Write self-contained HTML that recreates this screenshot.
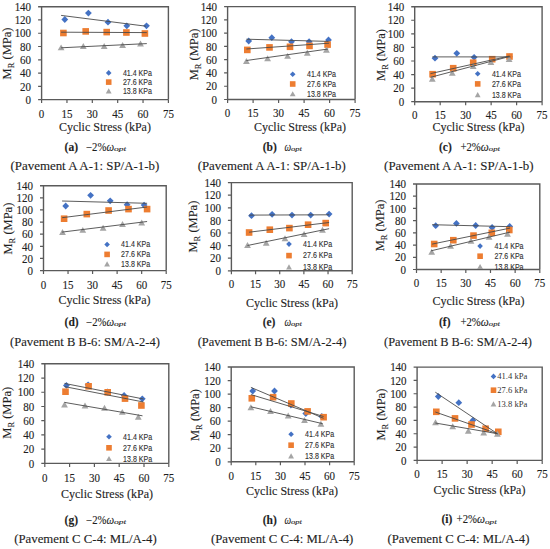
<!DOCTYPE html>
<html><head><meta charset="utf-8"><style>
html,body{margin:0;padding:0;background:#fff;}
svg{display:block;}
text{font-family:"Liberation Serif",serif;fill:#1e1e1e;stroke:#1e1e1e;stroke-width:0.12px;}
.t{font-size:11px;}
.c{font-size:12px;}
.yl{font-size:12.5px;}
.sub{font-size:8.5px;}
.l{font-family:"Liberation Sans",sans-serif;font-size:8.2px;fill:#333333;}
.ls{font-size:8.5px;fill:#333;stroke:none;}
.cb{font-size:11.5px;font-weight:bold;}
.cp{font-size:11.5px;}
.cw{font-size:12px;font-style:italic;}
.co{font-size:7px;font-style:italic;}
.p{font-size:12.6px;}
</style></head><body>
<svg width="550" height="549" viewBox="0 0 550 549">
<rect width="550" height="549" fill="#fff"/>
<g><path d="M64.8 16.1L68.2 19.5L64.8 22.9L61.4 19.5Z" fill="#4472C4"/><path d="M88.4 9.7L91.8 13.1L88.4 16.5L85 13.1Z" fill="#4472C4"/><path d="M108 18.8L111.4 22.2L108 25.6L104.6 22.2Z" fill="#4472C4"/><path d="M126.8 22.4L130.2 25.8L126.8 29.2L123.4 25.8Z" fill="#4472C4"/><path d="M146.5 22.4L149.9 25.8L146.5 29.2L143.1 25.8Z" fill="#4472C4"/><rect x="60.1" y="29.7" width="6.6" height="6.6" fill="#ED7D31"/><rect x="82.4" y="28.1" width="6.6" height="6.6" fill="#ED7D31"/><rect x="103.4" y="28.8" width="6.6" height="6.6" fill="#ED7D31"/><rect x="123.1" y="29.2" width="6.6" height="6.6" fill="#ED7D31"/><rect x="141.6" y="30.2" width="6.6" height="6.6" fill="#ED7D31"/><path d="M61.1 44.4L64.5 50.35L57.7 50.35Z" fill="#A5A5A5"/><path d="M83.3 43.1L86.7 49.05L79.9 49.05Z" fill="#A5A5A5"/><path d="M104.2 43.1L107.6 49.05L100.8 49.05Z" fill="#A5A5A5"/><path d="M122.6 42.1L126 48.05L119.2 48.05Z" fill="#A5A5A5"/><path d="M140.5 40.6L143.9 46.55L137.1 46.55Z" fill="#A5A5A5"/><line x1="61.1" y1="15.4" x2="145.9" y2="26.2" stroke="#4a4a4a" stroke-width="0.9"/><line x1="61.1" y1="32.2" x2="146.8" y2="32.6" stroke="#4a4a4a" stroke-width="0.9"/><line x1="61.1" y1="47.8" x2="146.8" y2="43.6" stroke="#4a4a4a" stroke-width="0.9"/><path d="M38.1 6.7H168.4V99.6M41.6 6.7V99.6H168.4" fill="none" stroke="#5a5a5a" stroke-width="1.4"/><path d="M38.1 19.97H41.6M38.1 33.24H41.6M38.1 46.51H41.6M38.1 59.79H41.6M38.1 73.06H41.6M38.1 86.33H41.6M38.1 99.6H41.6M41.6 99.6V103.1M66.96 99.6V103.1M92.32 99.6V103.1M117.68 99.6V103.1M143.04 99.6V103.1M168.4 99.6V103.1" stroke="#5a5a5a" stroke-width="1.2"/><text transform="translate(31.1 10.9) scale(1 1.22)" class="t" text-anchor="end">140</text><text transform="translate(31.1 24.17) scale(1 1.22)" class="t" text-anchor="end">120</text><text transform="translate(31.1 37.44) scale(1 1.22)" class="t" text-anchor="end">100</text><text transform="translate(31.1 50.71) scale(1 1.22)" class="t" text-anchor="end">80</text><text transform="translate(31.1 63.99) scale(1 1.22)" class="t" text-anchor="end">60</text><text transform="translate(31.1 77.26) scale(1 1.22)" class="t" text-anchor="end">40</text><text transform="translate(31.1 90.53) scale(1 1.22)" class="t" text-anchor="end">20</text><text transform="translate(31.1 103.8) scale(1 1.22)" class="t" text-anchor="end">0</text><text transform="translate(41.6 117.6) scale(1 1.22)" class="t" text-anchor="middle">0</text><text transform="translate(66.96 117.6) scale(1 1.22)" class="t" text-anchor="middle">15</text><text transform="translate(92.32 117.6) scale(1 1.22)" class="t" text-anchor="middle">30</text><text transform="translate(117.68 117.6) scale(1 1.22)" class="t" text-anchor="middle">45</text><text transform="translate(143.04 117.6) scale(1 1.22)" class="t" text-anchor="middle">60</text><text transform="translate(168.4 117.6) scale(1 1.22)" class="t" text-anchor="middle">75</text><text x="104.9" y="131" class="c" text-anchor="middle">Cyclic Stress (kPa)</text><text transform="translate(10.8 53.5) rotate(-90)" class="yl" text-anchor="middle">M<tspan class="sub" dy="3">R</tspan><tspan dy="-3"> (MPa)</tspan></text><path d="M108.7 70.1L111.5 72.9L108.7 75.7L105.9 72.9Z" fill="#4472C4"/><rect x="105.9" y="79.3" width="5.6" height="5.6" fill="#ED7D31"/><path d="M108.7 88.3L111.6 93.38L105.8 93.38Z" fill="#A5A5A5"/><text x="122.9" y="75.6" class="l" textLength="29" lengthAdjust="spacingAndGlyphs">41.4 KPa</text><text x="122.9" y="84.8" class="l" textLength="29" lengthAdjust="spacingAndGlyphs">27.6 KPa</text><text x="122.9" y="93.9" class="l" textLength="29" lengthAdjust="spacingAndGlyphs">13.8 KPa</text><text x="64.6" y="150.5" class="cb">(a)</text><text x="86" y="150.5" class="cp" textLength="20.4" lengthAdjust="spacingAndGlyphs">−2%</text><text x="106.4" y="150.5" class="cw" textLength="7.6" lengthAdjust="spacingAndGlyphs">ω</text><text x="114" y="150.8" class="co" textLength="12.2" lengthAdjust="spacingAndGlyphs">opt</text><text x="10.5" y="170.3" class="p" textLength="148.8" lengthAdjust="spacingAndGlyphs">(Pavement A A-1: SP/A-1-b)</text></g><g><path d="M248.7 37.6L252.1 41L248.7 44.4L245.3 41Z" fill="#4472C4"/><path d="M271.8 34.3L275.2 37.7L271.8 41.1L268.4 37.7Z" fill="#4472C4"/><path d="M291.5 38.3L294.9 41.7L291.5 45.1L288.1 41.7Z" fill="#4472C4"/><path d="M309.1 38.3L312.5 41.7L309.1 45.1L305.7 41.7Z" fill="#4472C4"/><path d="M328.5 36.5L331.9 39.9L328.5 43.3L325.1 39.9Z" fill="#4472C4"/><rect x="244" y="46.6" width="6.6" height="6.6" fill="#ED7D31"/><rect x="266.2" y="44.1" width="6.6" height="6.6" fill="#ED7D31"/><rect x="286.7" y="43.5" width="6.6" height="6.6" fill="#ED7D31"/><rect x="306.2" y="42.6" width="6.6" height="6.6" fill="#ED7D31"/><rect x="324.3" y="41.3" width="6.6" height="6.6" fill="#ED7D31"/><path d="M246.4 58L249.8 63.95L243 63.95Z" fill="#A5A5A5"/><path d="M267.6 55.2L271 61.15L264.2 61.15Z" fill="#A5A5A5"/><path d="M287.6 52.9L291 58.85L284.2 58.85Z" fill="#A5A5A5"/><path d="M307.3 49.8L310.7 55.75L303.9 55.75Z" fill="#A5A5A5"/><path d="M326.4 46.7L329.8 52.65L323 52.65Z" fill="#A5A5A5"/><line x1="246.4" y1="39.2" x2="328.5" y2="41.4" stroke="#4a4a4a" stroke-width="0.9"/><line x1="246.4" y1="49" x2="329.1" y2="43.2" stroke="#4a4a4a" stroke-width="0.9"/><line x1="246.4" y1="60.5" x2="328.2" y2="49" stroke="#4a4a4a" stroke-width="0.9"/><path d="M224.1 6.6H355.1V99.5M227.6 6.6V99.5H355.1" fill="none" stroke="#5a5a5a" stroke-width="1.4"/><path d="M224.1 19.87H227.6M224.1 33.14H227.6M224.1 46.41H227.6M224.1 59.69H227.6M224.1 72.96H227.6M224.1 86.23H227.6M224.1 99.5H227.6M227.6 99.5V103M253.1 99.5V103M278.6 99.5V103M304.1 99.5V103M329.6 99.5V103M355.1 99.5V103" stroke="#5a5a5a" stroke-width="1.2"/><text transform="translate(217.1 10.8) scale(1 1.22)" class="t" text-anchor="end">140</text><text transform="translate(217.1 24.07) scale(1 1.22)" class="t" text-anchor="end">120</text><text transform="translate(217.1 37.34) scale(1 1.22)" class="t" text-anchor="end">100</text><text transform="translate(217.1 50.61) scale(1 1.22)" class="t" text-anchor="end">80</text><text transform="translate(217.1 63.89) scale(1 1.22)" class="t" text-anchor="end">60</text><text transform="translate(217.1 77.16) scale(1 1.22)" class="t" text-anchor="end">40</text><text transform="translate(217.1 90.43) scale(1 1.22)" class="t" text-anchor="end">20</text><text transform="translate(217.1 103.7) scale(1 1.22)" class="t" text-anchor="end">0</text><text transform="translate(227.6 116.5) scale(1 1.22)" class="t" text-anchor="middle">0</text><text transform="translate(253.1 116.5) scale(1 1.22)" class="t" text-anchor="middle">15</text><text transform="translate(278.6 116.5) scale(1 1.22)" class="t" text-anchor="middle">30</text><text transform="translate(304.1 116.5) scale(1 1.22)" class="t" text-anchor="middle">45</text><text transform="translate(329.6 116.5) scale(1 1.22)" class="t" text-anchor="middle">60</text><text transform="translate(355.1 116.5) scale(1 1.22)" class="t" text-anchor="middle">75</text><text x="300" y="130.5" class="c" text-anchor="middle">Cyclic Stress (kPa)</text><text transform="translate(198.3 54.4) rotate(-90)" class="yl" text-anchor="middle">M<tspan class="sub" dy="3">R</tspan><tspan dy="-3"> (MPa)</tspan></text><path d="M292.7 71.5L295.5 74.3L292.7 77.1L289.9 74.3Z" fill="#4472C4"/><rect x="289.9" y="81.2" width="5.6" height="5.6" fill="#ED7D31"/><path d="M292.7 91.2L295.6 96.27L289.8 96.27Z" fill="#A5A5A5"/><text x="307" y="77" class="l" textLength="29" lengthAdjust="spacingAndGlyphs">41.4 KPa</text><text x="307" y="86.7" class="l" textLength="29" lengthAdjust="spacingAndGlyphs">27.6 KPa</text><text x="307" y="96.8" class="l" textLength="29" lengthAdjust="spacingAndGlyphs">13.8 KPa</text><text x="262.7" y="150.5" class="cb">(b)</text><text x="284.4" y="150.5" class="cw" textLength="6.6" lengthAdjust="spacingAndGlyphs">ω</text><text x="291" y="150.8" class="co" textLength="10.9" lengthAdjust="spacingAndGlyphs">opt</text><text x="197.7" y="169.8" class="p" textLength="148.1" lengthAdjust="spacingAndGlyphs">(Pavement A A-1: SP/A-1-b)</text></g><g><path d="M435 54.8L438.4 58.2L435 61.6L431.6 58.2Z" fill="#4472C4"/><path d="M456.8 49.9L460.2 53.3L456.8 56.7L453.4 53.3Z" fill="#4472C4"/><path d="M474.1 53.9L477.5 57.3L474.1 60.7L470.7 57.3Z" fill="#4472C4"/><path d="M492.2 55.9L495.6 59.3L492.2 62.7L488.8 59.3Z" fill="#4472C4"/><path d="M509.5 53.4L512.9 56.8L509.5 60.2L506.1 56.8Z" fill="#4472C4"/><rect x="429.3" y="70.9" width="6.6" height="6.6" fill="#ED7D31"/><rect x="449.9" y="64.9" width="6.6" height="6.6" fill="#ED7D31"/><rect x="469.9" y="59.4" width="6.6" height="6.6" fill="#ED7D31"/><rect x="488.9" y="55.9" width="6.6" height="6.6" fill="#ED7D31"/><rect x="506.2" y="53.2" width="6.6" height="6.6" fill="#ED7D31"/><path d="M432.3 75.7L435.7 81.65L428.9 81.65Z" fill="#A5A5A5"/><path d="M452.3 69.9L455.7 75.85L448.9 75.85Z" fill="#A5A5A5"/><path d="M473.2 63L476.6 68.95L469.8 68.95Z" fill="#A5A5A5"/><path d="M490.9 59.1L494.3 65.05L487.5 65.05Z" fill="#A5A5A5"/><path d="M509.1 56.1L512.5 62.05L505.7 62.05Z" fill="#A5A5A5"/><line x1="432.3" y1="56.9" x2="510.5" y2="56.9" stroke="#4a4a4a" stroke-width="0.9"/><line x1="430.5" y1="73.6" x2="509.5" y2="56" stroke="#4a4a4a" stroke-width="0.9"/><line x1="430.5" y1="77.3" x2="509.5" y2="56.5" stroke="#4a4a4a" stroke-width="0.9"/><path d="M411.2 6.7H542.1V101.7M414.7 6.7V101.7H542.1" fill="none" stroke="#5a5a5a" stroke-width="1.4"/><path d="M411.2 20.27H414.7M411.2 33.84H414.7M411.2 47.41H414.7M411.2 60.99H414.7M411.2 74.56H414.7M411.2 88.13H414.7M411.2 101.7H414.7M414.7 101.7V105.2M440.18 101.7V105.2M465.66 101.7V105.2M491.14 101.7V105.2M516.62 101.7V105.2M542.1 101.7V105.2" stroke="#5a5a5a" stroke-width="1.2"/><text transform="translate(404.2 10.9) scale(1 1.22)" class="t" text-anchor="end">140</text><text transform="translate(404.2 24.47) scale(1 1.22)" class="t" text-anchor="end">120</text><text transform="translate(404.2 38.04) scale(1 1.22)" class="t" text-anchor="end">100</text><text transform="translate(404.2 51.61) scale(1 1.22)" class="t" text-anchor="end">80</text><text transform="translate(404.2 65.19) scale(1 1.22)" class="t" text-anchor="end">60</text><text transform="translate(404.2 78.76) scale(1 1.22)" class="t" text-anchor="end">40</text><text transform="translate(404.2 92.33) scale(1 1.22)" class="t" text-anchor="end">20</text><text transform="translate(404.2 105.9) scale(1 1.22)" class="t" text-anchor="end">0</text><text transform="translate(414.7 119) scale(1 1.22)" class="t" text-anchor="middle">0</text><text transform="translate(440.18 119) scale(1 1.22)" class="t" text-anchor="middle">15</text><text transform="translate(465.66 119) scale(1 1.22)" class="t" text-anchor="middle">30</text><text transform="translate(491.14 119) scale(1 1.22)" class="t" text-anchor="middle">45</text><text transform="translate(516.62 119) scale(1 1.22)" class="t" text-anchor="middle">60</text><text transform="translate(542.1 119) scale(1 1.22)" class="t" text-anchor="middle">75</text><text x="478.5" y="131.1" class="c" text-anchor="middle">Cyclic Stress (kPa)</text><text transform="translate(384.6 55) rotate(-90)" class="yl" text-anchor="middle">M<tspan class="sub" dy="3">R</tspan><tspan dy="-3"> (MPa)</tspan></text><path d="M477.7 71L480.5 73.8L477.7 76.6L474.9 73.8Z" fill="#4472C4"/><rect x="474.9" y="81.1" width="5.6" height="5.6" fill="#ED7D31"/><path d="M477.7 92.1L480.6 97.17L474.8 97.17Z" fill="#A5A5A5"/><text x="491.9" y="76.5" class="l" textLength="29" lengthAdjust="spacingAndGlyphs">41.4 KPa</text><text x="491.9" y="86.6" class="l" textLength="29" lengthAdjust="spacingAndGlyphs">27.6 KPa</text><text x="491.9" y="97.7" class="l" textLength="29" lengthAdjust="spacingAndGlyphs">13.8 KPa</text><text x="439" y="150.5" class="cb">(c)</text><text x="460.4" y="150.5" class="cp" textLength="20.4" lengthAdjust="spacingAndGlyphs">+2%</text><text x="480.8" y="150.5" class="cw" textLength="8" lengthAdjust="spacingAndGlyphs">ω</text><text x="488.8" y="150.8" class="co" textLength="11.1" lengthAdjust="spacingAndGlyphs">opt</text><text x="384.1" y="169.8" class="p" textLength="149.4" lengthAdjust="spacingAndGlyphs">(Pavement A A-1: SP/A-1-b)</text></g><g><path d="M65.7 202.6L69.1 206L65.7 209.4L62.3 206Z" fill="#4472C4"/><path d="M90.6 191.9L94 195.3L90.6 198.7L87.2 195.3Z" fill="#4472C4"/><path d="M110.2 197.4L113.6 200.8L110.2 204.2L106.8 200.8Z" fill="#4472C4"/><path d="M127.1 201.3L130.5 204.7L127.1 208.1L123.7 204.7Z" fill="#4472C4"/><path d="M144.1 201.7L147.5 205.1L144.1 208.5L140.7 205.1Z" fill="#4472C4"/><rect x="60.8" y="215.4" width="6.6" height="6.6" fill="#ED7D31"/><rect x="83.5" y="210.8" width="6.6" height="6.6" fill="#ED7D31"/><rect x="105.3" y="207.2" width="6.6" height="6.6" fill="#ED7D31"/><rect x="125.2" y="205.8" width="6.6" height="6.6" fill="#ED7D31"/><rect x="143.8" y="205.8" width="6.6" height="6.6" fill="#ED7D31"/><path d="M62.5 229.1L65.9 235.05L59.1 235.05Z" fill="#A5A5A5"/><path d="M82.8 226.9L86.2 232.85L79.4 232.85Z" fill="#A5A5A5"/><path d="M103.1 224.7L106.5 230.65L99.7 230.65Z" fill="#A5A5A5"/><path d="M122.5 221L125.9 226.95L119.1 226.95Z" fill="#A5A5A5"/><path d="M141.7 219.5L145.1 225.45L138.3 225.45Z" fill="#A5A5A5"/><line x1="62.1" y1="201" x2="147.1" y2="203.3" stroke="#4a4a4a" stroke-width="0.9"/><line x1="62.1" y1="217.7" x2="147.1" y2="207" stroke="#4a4a4a" stroke-width="0.9"/><line x1="62.1" y1="232.1" x2="147.1" y2="221.5" stroke="#4a4a4a" stroke-width="0.9"/><path d="M40 185.7H166.2V270.6M43.5 185.7V270.6H166.2" fill="none" stroke="#5a5a5a" stroke-width="1.4"/><path d="M40 197.83H43.5M40 209.96H43.5M40 222.09H43.5M40 234.21H43.5M40 246.34H43.5M40 258.47H43.5M40 270.6H43.5M43.5 270.6V274.1M68.04 270.6V274.1M92.58 270.6V274.1M117.12 270.6V274.1M141.66 270.6V274.1M166.2 270.6V274.1" stroke="#5a5a5a" stroke-width="1.2"/><text transform="translate(33 189.9) scale(1 1.22)" class="t" text-anchor="end">140</text><text transform="translate(33 202.03) scale(1 1.22)" class="t" text-anchor="end">120</text><text transform="translate(33 214.16) scale(1 1.22)" class="t" text-anchor="end">100</text><text transform="translate(33 226.29) scale(1 1.22)" class="t" text-anchor="end">80</text><text transform="translate(33 238.41) scale(1 1.22)" class="t" text-anchor="end">60</text><text transform="translate(33 250.54) scale(1 1.22)" class="t" text-anchor="end">40</text><text transform="translate(33 262.67) scale(1 1.22)" class="t" text-anchor="end">20</text><text transform="translate(33 274.8) scale(1 1.22)" class="t" text-anchor="end">0</text><text transform="translate(43.5 288.6) scale(1 1.22)" class="t" text-anchor="middle">0</text><text transform="translate(68.04 288.6) scale(1 1.22)" class="t" text-anchor="middle">15</text><text transform="translate(92.58 288.6) scale(1 1.22)" class="t" text-anchor="middle">30</text><text transform="translate(117.12 288.6) scale(1 1.22)" class="t" text-anchor="middle">45</text><text transform="translate(141.66 288.6) scale(1 1.22)" class="t" text-anchor="middle">60</text><text transform="translate(166.2 288.6) scale(1 1.22)" class="t" text-anchor="middle">75</text><text x="104.5" y="303.5" class="c" text-anchor="middle">Cyclic Stress (kPa)</text><text transform="translate(12 228.6) rotate(-90)" class="yl" text-anchor="middle">M<tspan class="sub" dy="3">R</tspan><tspan dy="-3"> (MPa)</tspan></text><path d="M107.1 241.7L109.9 244.5L107.1 247.3L104.3 244.5Z" fill="#4472C4"/><rect x="104.3" y="251.6" width="5.6" height="5.6" fill="#ED7D31"/><path d="M107.1 261.3L110 266.38L104.2 266.38Z" fill="#A5A5A5"/><text x="121.1" y="247.2" class="l" textLength="29" lengthAdjust="spacingAndGlyphs">41.4 KPa</text><text x="121.1" y="257.1" class="l" textLength="29" lengthAdjust="spacingAndGlyphs">27.6 KPa</text><text x="121.1" y="266.9" class="l" textLength="29" lengthAdjust="spacingAndGlyphs">13.8 KPa</text><text x="64.6" y="325.7" class="cb">(d)</text><text x="86.1" y="325.7" class="cp" textLength="20.3" lengthAdjust="spacingAndGlyphs">−2%</text><text x="106.4" y="325.7" class="cw" textLength="7.6" lengthAdjust="spacingAndGlyphs">ω</text><text x="114" y="326" class="co" textLength="12.2" lengthAdjust="spacingAndGlyphs">opt</text><text x="10.1" y="346.1" class="p" textLength="149.8" lengthAdjust="spacingAndGlyphs">(Pavement B B-6: SM/A-2-4)</text></g><g><path d="M251.5 212.3L254.9 215.7L251.5 219.1L248.1 215.7Z" fill="#4472C4"/><path d="M272.1 210.9L275.5 214.3L272.1 217.7L268.7 214.3Z" fill="#4472C4"/><path d="M292 211.7L295.4 215.1L292 218.5L288.6 215.1Z" fill="#4472C4"/><path d="M310.7 211.7L314.1 215.1L310.7 218.5L307.3 215.1Z" fill="#4472C4"/><path d="M329.1 210.7L332.5 214.1L329.1 217.5L325.7 214.1Z" fill="#4472C4"/><rect x="245.8" y="229.2" width="6.6" height="6.6" fill="#ED7D31"/><rect x="266.5" y="226.4" width="6.6" height="6.6" fill="#ED7D31"/><rect x="286.1" y="224.8" width="6.6" height="6.6" fill="#ED7D31"/><rect x="304.8" y="221.4" width="6.6" height="6.6" fill="#ED7D31"/><rect x="322.4" y="219.8" width="6.6" height="6.6" fill="#ED7D31"/><path d="M247.5 242.1L250.9 248.05L244.1 248.05Z" fill="#A5A5A5"/><path d="M266.2 239.7L269.6 245.65L262.8 245.65Z" fill="#A5A5A5"/><path d="M285 235.3L288.4 241.25L281.6 241.25Z" fill="#A5A5A5"/><path d="M304.1 231.1L307.5 237.05L300.7 237.05Z" fill="#A5A5A5"/><path d="M322.5 226.7L325.9 232.65L319.1 232.65Z" fill="#A5A5A5"/><line x1="249.1" y1="215.1" x2="329.1" y2="214.8" stroke="#4a4a4a" stroke-width="0.9"/><line x1="249.1" y1="232.2" x2="329.1" y2="222.5" stroke="#4a4a4a" stroke-width="0.9"/><line x1="247.5" y1="245.5" x2="329.1" y2="228.7" stroke="#4a4a4a" stroke-width="0.9"/><path d="M227.9 182.6H352.2V270.8M231.4 182.6V270.8H352.2" fill="none" stroke="#5a5a5a" stroke-width="1.4"/><path d="M227.9 195.2H231.4M227.9 207.8H231.4M227.9 220.4H231.4M227.9 233H231.4M227.9 245.6H231.4M227.9 258.2H231.4M227.9 270.8H231.4M231.4 270.8V274.3M255.56 270.8V274.3M279.72 270.8V274.3M303.88 270.8V274.3M328.04 270.8V274.3M352.2 270.8V274.3" stroke="#5a5a5a" stroke-width="1.2"/><text transform="translate(220.9 186.8) scale(1 1.22)" class="t" text-anchor="end">140</text><text transform="translate(220.9 199.4) scale(1 1.22)" class="t" text-anchor="end">120</text><text transform="translate(220.9 212) scale(1 1.22)" class="t" text-anchor="end">100</text><text transform="translate(220.9 224.6) scale(1 1.22)" class="t" text-anchor="end">80</text><text transform="translate(220.9 237.2) scale(1 1.22)" class="t" text-anchor="end">60</text><text transform="translate(220.9 249.8) scale(1 1.22)" class="t" text-anchor="end">40</text><text transform="translate(220.9 262.4) scale(1 1.22)" class="t" text-anchor="end">20</text><text transform="translate(220.9 275) scale(1 1.22)" class="t" text-anchor="end">0</text><text transform="translate(231.4 288.3) scale(1 1.22)" class="t" text-anchor="middle">0</text><text transform="translate(255.56 288.3) scale(1 1.22)" class="t" text-anchor="middle">15</text><text transform="translate(279.72 288.3) scale(1 1.22)" class="t" text-anchor="middle">30</text><text transform="translate(303.88 288.3) scale(1 1.22)" class="t" text-anchor="middle">45</text><text transform="translate(328.04 288.3) scale(1 1.22)" class="t" text-anchor="middle">60</text><text transform="translate(352.2 288.3) scale(1 1.22)" class="t" text-anchor="middle">75</text><text x="292.1" y="306.6" class="c" text-anchor="middle">Cyclic Stress (kPa)</text><text transform="translate(197 226.6) rotate(-90)" class="yl" text-anchor="middle">M<tspan class="sub" dy="3">R</tspan><tspan dy="-3"> (MPa)</tspan></text><path d="M289 241.3L291.8 244.1L289 246.9L286.2 244.1Z" fill="#4472C4"/><rect x="286.2" y="252.8" width="5.6" height="5.6" fill="#ED7D31"/><path d="M289 264.3L291.9 269.38L286.1 269.38Z" fill="#A5A5A5"/><text x="303.1" y="246.8" class="l" textLength="29" lengthAdjust="spacingAndGlyphs">41.4 KPa</text><text x="303.1" y="258.3" class="l" textLength="29" lengthAdjust="spacingAndGlyphs">27.6 KPa</text><text x="303.1" y="269.9" class="l" textLength="29" lengthAdjust="spacingAndGlyphs">13.8 KPa</text><text x="262.7" y="325.9" class="cb">(e)</text><text x="284.4" y="325.9" class="cw" textLength="6.6" lengthAdjust="spacingAndGlyphs">ω</text><text x="291" y="326.2" class="co" textLength="10.9" lengthAdjust="spacingAndGlyphs">opt</text><text x="197.7" y="346.3" class="p" textLength="148.6" lengthAdjust="spacingAndGlyphs">(Pavement B B-6: SM/A-2-4)</text></g><g><path d="M435.7 222.3L439.1 225.7L435.7 229.1L432.3 225.7Z" fill="#4472C4"/><path d="M456.4 220L459.8 223.4L456.4 226.8L453 223.4Z" fill="#4472C4"/><path d="M475.7 222.1L479.1 225.5L475.7 228.9L472.3 225.5Z" fill="#4472C4"/><path d="M492.1 224.1L495.5 227.5L492.1 230.9L488.7 227.5Z" fill="#4472C4"/><path d="M509.7 223.1L513.1 226.5L509.7 229.9L506.3 226.5Z" fill="#4472C4"/><rect x="430.9" y="240.7" width="6.6" height="6.6" fill="#ED7D31"/><rect x="450" y="236.9" width="6.6" height="6.6" fill="#ED7D31"/><rect x="470.2" y="232.3" width="6.6" height="6.6" fill="#ED7D31"/><rect x="488.5" y="229.5" width="6.6" height="6.6" fill="#ED7D31"/><rect x="506" y="226.7" width="6.6" height="6.6" fill="#ED7D31"/><path d="M431.7 248.8L435.1 254.75L428.3 254.75Z" fill="#A5A5A5"/><path d="M450.6 242.7L454 248.65L447.2 248.65Z" fill="#A5A5A5"/><path d="M471 237.7L474.4 243.65L467.6 243.65Z" fill="#A5A5A5"/><path d="M489.1 233.7L492.5 239.65L485.7 239.65Z" fill="#A5A5A5"/><path d="M507.5 230.7L510.9 236.65L504.1 236.65Z" fill="#A5A5A5"/><line x1="432.1" y1="224.7" x2="510.1" y2="226.7" stroke="#4a4a4a" stroke-width="0.9"/><line x1="432.1" y1="244.1" x2="510.1" y2="228.1" stroke="#4a4a4a" stroke-width="0.9"/><line x1="431.1" y1="250.8" x2="510.1" y2="232.1" stroke="#4a4a4a" stroke-width="0.9"/><path d="M413 184H539.8V269.5M416.5 184V269.5H539.8" fill="none" stroke="#5a5a5a" stroke-width="1.4"/><path d="M413 196.21H416.5M413 208.43H416.5M413 220.64H416.5M413 232.86H416.5M413 245.07H416.5M413 257.29H416.5M413 269.5H416.5M416.5 269.5V273M441.16 269.5V273M465.82 269.5V273M490.48 269.5V273M515.14 269.5V273M539.8 269.5V273" stroke="#5a5a5a" stroke-width="1.2"/><text transform="translate(406 188.2) scale(1 1.22)" class="t" text-anchor="end">140</text><text transform="translate(406 200.41) scale(1 1.22)" class="t" text-anchor="end">120</text><text transform="translate(406 212.63) scale(1 1.22)" class="t" text-anchor="end">100</text><text transform="translate(406 224.84) scale(1 1.22)" class="t" text-anchor="end">80</text><text transform="translate(406 237.06) scale(1 1.22)" class="t" text-anchor="end">60</text><text transform="translate(406 249.27) scale(1 1.22)" class="t" text-anchor="end">40</text><text transform="translate(406 261.49) scale(1 1.22)" class="t" text-anchor="end">20</text><text transform="translate(406 273.7) scale(1 1.22)" class="t" text-anchor="end">0</text><text transform="translate(416.5 286.9) scale(1 1.22)" class="t" text-anchor="middle">0</text><text transform="translate(441.16 286.9) scale(1 1.22)" class="t" text-anchor="middle">15</text><text transform="translate(465.82 286.9) scale(1 1.22)" class="t" text-anchor="middle">30</text><text transform="translate(490.48 286.9) scale(1 1.22)" class="t" text-anchor="middle">45</text><text transform="translate(515.14 286.9) scale(1 1.22)" class="t" text-anchor="middle">60</text><text transform="translate(539.8 286.9) scale(1 1.22)" class="t" text-anchor="middle">75</text><text x="478.4" y="304.5" class="c" text-anchor="middle">Cyclic Stress (kPa)</text><text transform="translate(384 225.4) rotate(-90)" class="yl" text-anchor="middle">M<tspan class="sub" dy="3">R</tspan><tspan dy="-3"> (MPa)</tspan></text><path d="M480.1 243.3L482.9 246.1L480.1 248.9L477.3 246.1Z" fill="#4472C4"/><rect x="477.3" y="253.4" width="5.6" height="5.6" fill="#ED7D31"/><path d="M480.1 263.9L483 268.98L477.2 268.98Z" fill="#A5A5A5"/><text x="494.5" y="248.8" class="l" textLength="29" lengthAdjust="spacingAndGlyphs">41.4 KPa</text><text x="494.5" y="258.9" class="l" textLength="29" lengthAdjust="spacingAndGlyphs">27.6 KPa</text><text x="494.5" y="269.5" class="l" textLength="29" lengthAdjust="spacingAndGlyphs">13.8 KPa</text><text x="439" y="325.9" class="cb">(f)</text><text x="460.4" y="325.9" class="cp" textLength="20.4" lengthAdjust="spacingAndGlyphs">+2%</text><text x="480.8" y="325.9" class="cw" textLength="8" lengthAdjust="spacingAndGlyphs">ω</text><text x="488.8" y="326.2" class="co" textLength="11.1" lengthAdjust="spacingAndGlyphs">opt</text><text x="384.1" y="345.9" class="p" textLength="147.7" lengthAdjust="spacingAndGlyphs">(Pavement B B-6: SM/A-2-4)</text></g><g><path d="M66.4 382L69.8 385.4L66.4 388.8L63 385.4Z" fill="#4472C4"/><path d="M88.1 381.4L91.5 384.8L88.1 388.2L84.7 384.8Z" fill="#4472C4"/><path d="M107.6 388.6L111 392L107.6 395.4L104.2 392Z" fill="#4472C4"/><path d="M124.1 392L127.5 395.4L124.1 398.8L120.7 395.4Z" fill="#4472C4"/><path d="M142.3 395.4L145.7 398.8L142.3 402.2L138.9 398.8Z" fill="#4472C4"/><rect x="62.2" y="388.4" width="6.6" height="6.6" fill="#ED7D31"/><rect x="85.3" y="383" width="6.6" height="6.6" fill="#ED7D31"/><rect x="104.4" y="389" width="6.6" height="6.6" fill="#ED7D31"/><rect x="121.7" y="395.3" width="6.6" height="6.6" fill="#ED7D31"/><rect x="138.1" y="402.2" width="6.6" height="6.6" fill="#ED7D31"/><path d="M64.5 401.6L67.9 407.55L61.1 407.55Z" fill="#A5A5A5"/><path d="M85 402.5L88.4 408.45L81.6 408.45Z" fill="#A5A5A5"/><path d="M104.5 404.7L107.9 410.65L101.1 410.65Z" fill="#A5A5A5"/><path d="M122.3 408.9L125.7 414.85L118.9 414.85Z" fill="#A5A5A5"/><path d="M138.3 413.8L141.7 419.75L134.9 419.75Z" fill="#A5A5A5"/><line x1="64.5" y1="383.4" x2="143.5" y2="399" stroke="#4a4a4a" stroke-width="0.9"/><line x1="64.5" y1="386.6" x2="143.5" y2="402" stroke="#4a4a4a" stroke-width="0.9"/><line x1="64.5" y1="402.4" x2="142.5" y2="415.8" stroke="#4a4a4a" stroke-width="0.9"/><path d="M41.3 363.8H168.8V463.4M44.8 363.8V463.4H168.8" fill="none" stroke="#5a5a5a" stroke-width="1.4"/><path d="M41.3 378.03H44.8M41.3 392.26H44.8M41.3 406.49H44.8M41.3 420.71H44.8M41.3 434.94H44.8M41.3 449.17H44.8M41.3 463.4H44.8M44.8 463.4V466.9M69.6 463.4V466.9M94.4 463.4V466.9M119.2 463.4V466.9M144 463.4V466.9M168.8 463.4V466.9" stroke="#5a5a5a" stroke-width="1.2"/><text transform="translate(34.3 368) scale(1 1.22)" class="t" text-anchor="end">140</text><text transform="translate(34.3 382.23) scale(1 1.22)" class="t" text-anchor="end">120</text><text transform="translate(34.3 396.46) scale(1 1.22)" class="t" text-anchor="end">100</text><text transform="translate(34.3 410.69) scale(1 1.22)" class="t" text-anchor="end">80</text><text transform="translate(34.3 424.91) scale(1 1.22)" class="t" text-anchor="end">60</text><text transform="translate(34.3 439.14) scale(1 1.22)" class="t" text-anchor="end">40</text><text transform="translate(34.3 453.37) scale(1 1.22)" class="t" text-anchor="end">20</text><text transform="translate(34.3 467.6) scale(1 1.22)" class="t" text-anchor="end">0</text><text transform="translate(44.8 481.6) scale(1 1.22)" class="t" text-anchor="middle">0</text><text transform="translate(69.6 481.6) scale(1 1.22)" class="t" text-anchor="middle">15</text><text transform="translate(94.4 481.6) scale(1 1.22)" class="t" text-anchor="middle">30</text><text transform="translate(119.2 481.6) scale(1 1.22)" class="t" text-anchor="middle">45</text><text transform="translate(144 481.6) scale(1 1.22)" class="t" text-anchor="middle">60</text><text transform="translate(168.8 481.6) scale(1 1.22)" class="t" text-anchor="middle">75</text><text x="107" y="498" class="c" text-anchor="middle">Cyclic Stress (kPa)</text><text transform="translate(11 412.8) rotate(-90)" class="yl" text-anchor="middle">M<tspan class="sub" dy="3">R</tspan><tspan dy="-3"> (MPa)</tspan></text><path d="M109 434L111.8 436.8L109 439.6L106.2 436.8Z" fill="#4472C4"/><rect x="106.2" y="445" width="5.6" height="5.6" fill="#ED7D31"/><path d="M109 455.9L111.9 460.98L106.1 460.98Z" fill="#A5A5A5"/><text x="123.1" y="439.5" class="l" textLength="29" lengthAdjust="spacingAndGlyphs">41.4 KPa</text><text x="123.1" y="450.5" class="l" textLength="29" lengthAdjust="spacingAndGlyphs">27.6 KPa</text><text x="123.1" y="461.5" class="l" textLength="29" lengthAdjust="spacingAndGlyphs">13.8 KPa</text><text x="64.6" y="524.1" class="cb">(g)</text><text x="86.1" y="524.1" class="cp" textLength="20.3" lengthAdjust="spacingAndGlyphs">−2%</text><text x="106.4" y="524.1" class="cw" textLength="7.6" lengthAdjust="spacingAndGlyphs">ω</text><text x="114" y="524.4" class="co" textLength="12.2" lengthAdjust="spacingAndGlyphs">opt</text><text x="14.2" y="543.2" class="p" textLength="142.5" lengthAdjust="spacingAndGlyphs">(Pavement C C-4: ML/A-4)</text></g><g><path d="M252.7 387.6L256.1 391L252.7 394.4L249.3 391Z" fill="#4472C4"/><path d="M274.5 387.6L277.9 391L274.5 394.4L271.1 391Z" fill="#4472C4"/><path d="M290.9 401.6L294.3 405L290.9 408.4L287.5 405Z" fill="#4472C4"/><path d="M305.8 410.1L309.2 413.5L305.8 416.9L302.4 413.5Z" fill="#4472C4"/><path d="M321.8 413.1L325.2 416.5L321.8 419.9L318.4 416.5Z" fill="#4472C4"/><rect x="248.5" y="395" width="6.6" height="6.6" fill="#ED7D31"/><rect x="269.8" y="393.9" width="6.6" height="6.6" fill="#ED7D31"/><rect x="288" y="400.2" width="6.6" height="6.6" fill="#ED7D31"/><rect x="304.3" y="408.1" width="6.6" height="6.6" fill="#ED7D31"/><rect x="320.3" y="413.9" width="6.6" height="6.6" fill="#ED7D31"/><path d="M250.9 404.3L254.3 410.25L247.5 410.25Z" fill="#A5A5A5"/><path d="M270.5 408L273.9 413.95L267.1 413.95Z" fill="#A5A5A5"/><path d="M288.2 412.5L291.6 418.45L284.8 418.45Z" fill="#A5A5A5"/><path d="M304.5 417.1L307.9 423.05L301.1 423.05Z" fill="#A5A5A5"/><path d="M320.9 420.7L324.3 426.65L317.5 426.65Z" fill="#A5A5A5"/><line x1="250.9" y1="387.4" x2="323.6" y2="418.3" stroke="#4a4a4a" stroke-width="0.9"/><line x1="250.9" y1="394.6" x2="323.6" y2="416.5" stroke="#4a4a4a" stroke-width="0.9"/><line x1="250.9" y1="406.8" x2="322.7" y2="423.7" stroke="#4a4a4a" stroke-width="0.9"/><path d="M227.7 367H354.2V461.8M231.2 367V461.8H354.2" fill="none" stroke="#5a5a5a" stroke-width="1.4"/><path d="M227.7 380.54H231.2M227.7 394.09H231.2M227.7 407.63H231.2M227.7 421.17H231.2M227.7 434.71H231.2M227.7 448.26H231.2M227.7 461.8H231.2M231.2 461.8V465.3M255.8 461.8V465.3M280.4 461.8V465.3M305 461.8V465.3M329.6 461.8V465.3M354.2 461.8V465.3" stroke="#5a5a5a" stroke-width="1.2"/><text transform="translate(220.7 371.2) scale(1 1.22)" class="t" text-anchor="end">140</text><text transform="translate(220.7 384.74) scale(1 1.22)" class="t" text-anchor="end">120</text><text transform="translate(220.7 398.29) scale(1 1.22)" class="t" text-anchor="end">100</text><text transform="translate(220.7 411.83) scale(1 1.22)" class="t" text-anchor="end">80</text><text transform="translate(220.7 425.37) scale(1 1.22)" class="t" text-anchor="end">60</text><text transform="translate(220.7 438.91) scale(1 1.22)" class="t" text-anchor="end">40</text><text transform="translate(220.7 452.46) scale(1 1.22)" class="t" text-anchor="end">20</text><text transform="translate(220.7 466) scale(1 1.22)" class="t" text-anchor="end">0</text><text transform="translate(231.2 479.6) scale(1 1.22)" class="t" text-anchor="middle">0</text><text transform="translate(255.8 479.6) scale(1 1.22)" class="t" text-anchor="middle">15</text><text transform="translate(280.4 479.6) scale(1 1.22)" class="t" text-anchor="middle">30</text><text transform="translate(305 479.6) scale(1 1.22)" class="t" text-anchor="middle">45</text><text transform="translate(329.6 479.6) scale(1 1.22)" class="t" text-anchor="middle">60</text><text transform="translate(354.2 479.6) scale(1 1.22)" class="t" text-anchor="middle">75</text><text x="292.1" y="494.5" class="c" text-anchor="middle">Cyclic Stress (kPa)</text><text transform="translate(198.5 415.1) rotate(-90)" class="yl" text-anchor="middle">M<tspan class="sub" dy="3">R</tspan><tspan dy="-3"> (MPa)</tspan></text><path d="M291.1 431.4L293.9 434.2L291.1 437L288.3 434.2Z" fill="#4472C4"/><rect x="288.3" y="442.4" width="5.6" height="5.6" fill="#ED7D31"/><path d="M291.1 453.3L294 458.38L288.2 458.38Z" fill="#A5A5A5"/><text x="305.1" y="436.9" class="l" textLength="29" lengthAdjust="spacingAndGlyphs">41.4 KPa</text><text x="305.1" y="447.9" class="l" textLength="29" lengthAdjust="spacingAndGlyphs">27.6 KPa</text><text x="305.1" y="458.9" class="l" textLength="29" lengthAdjust="spacingAndGlyphs">13.8 KPa</text><text x="262.7" y="523.5" class="cb">(h)</text><text x="284.4" y="523.5" class="cw" textLength="6.6" lengthAdjust="spacingAndGlyphs">ω</text><text x="291" y="523.8" class="co" textLength="10.9" lengthAdjust="spacingAndGlyphs">opt</text><text x="211" y="542.8" class="p" textLength="142.3" lengthAdjust="spacingAndGlyphs">(Pavement C C-4: ML/A-4)</text></g><g><path d="M438.3 393.1L441.7 396.5L438.3 399.9L434.9 396.5Z" fill="#4472C4"/><path d="M458.8 399.3L462.2 402.7L458.8 406.1L455.4 402.7Z" fill="#4472C4"/><path d="M472.8 417.1L476.2 420.5L472.8 423.9L469.4 420.5Z" fill="#4472C4"/><path d="M485.6 425.3L489 428.7L485.6 432.1L482.2 428.7Z" fill="#4472C4"/><path d="M497.8 429.5L501.2 432.9L497.8 436.3L494.4 432.9Z" fill="#4472C4"/><rect x="433" y="408.5" width="6.6" height="6.6" fill="#ED7D31"/><rect x="451.7" y="415.1" width="6.6" height="6.6" fill="#ED7D31"/><rect x="468.2" y="421.2" width="6.6" height="6.6" fill="#ED7D31"/><rect x="482.3" y="425.4" width="6.6" height="6.6" fill="#ED7D31"/><rect x="495" y="428.5" width="6.6" height="6.6" fill="#ED7D31"/><path d="M435.5 419.3L438.9 425.25L432.1 425.25Z" fill="#A5A5A5"/><path d="M452.7 423.3L456.1 429.25L449.3 429.25Z" fill="#A5A5A5"/><path d="M468.3 427.7L471.7 433.65L464.9 433.65Z" fill="#A5A5A5"/><path d="M483.7 429.5L487.1 435.45L480.3 435.45Z" fill="#A5A5A5"/><path d="M497.4 430.8L500.8 436.75L494 436.75Z" fill="#A5A5A5"/><line x1="435.3" y1="392.2" x2="497.4" y2="433.7" stroke="#4a4a4a" stroke-width="0.9"/><line x1="435.3" y1="412" x2="497.4" y2="433.7" stroke="#4a4a4a" stroke-width="0.9"/><line x1="435.3" y1="423" x2="497.4" y2="433.7" stroke="#4a4a4a" stroke-width="0.9"/><path d="M413.6 367.1H542.2V460.4M417.1 367.1V460.4H542.2" fill="none" stroke="#5a5a5a" stroke-width="1.4"/><path d="M413.6 380.43H417.1M413.6 393.76H417.1M413.6 407.09H417.1M413.6 420.41H417.1M413.6 433.74H417.1M413.6 447.07H417.1M413.6 460.4H417.1M417.1 460.4V463.9M442.12 460.4V463.9M467.14 460.4V463.9M492.16 460.4V463.9M517.18 460.4V463.9M542.2 460.4V463.9" stroke="#5a5a5a" stroke-width="1.2"/><text transform="translate(406.6 371.3) scale(1 1.22)" class="t" text-anchor="end">140</text><text transform="translate(406.6 384.63) scale(1 1.22)" class="t" text-anchor="end">120</text><text transform="translate(406.6 397.96) scale(1 1.22)" class="t" text-anchor="end">100</text><text transform="translate(406.6 411.29) scale(1 1.22)" class="t" text-anchor="end">80</text><text transform="translate(406.6 424.61) scale(1 1.22)" class="t" text-anchor="end">60</text><text transform="translate(406.6 437.94) scale(1 1.22)" class="t" text-anchor="end">40</text><text transform="translate(406.6 451.27) scale(1 1.22)" class="t" text-anchor="end">20</text><text transform="translate(406.6 464.6) scale(1 1.22)" class="t" text-anchor="end">0</text><text transform="translate(417.1 478.4) scale(1 1.22)" class="t" text-anchor="middle">0</text><text transform="translate(442.12 478.4) scale(1 1.22)" class="t" text-anchor="middle">15</text><text transform="translate(467.14 478.4) scale(1 1.22)" class="t" text-anchor="middle">30</text><text transform="translate(492.16 478.4) scale(1 1.22)" class="t" text-anchor="middle">45</text><text transform="translate(517.18 478.4) scale(1 1.22)" class="t" text-anchor="middle">60</text><text transform="translate(542.2 478.4) scale(1 1.22)" class="t" text-anchor="middle">75</text><text x="479.4" y="494.2" class="c" text-anchor="middle">Cyclic Stress (kPa)</text><text transform="translate(384.7 414.6) rotate(-90)" class="yl" text-anchor="middle">M<tspan class="sub" dy="3">R</tspan><tspan dy="-3"> (MPa)</tspan></text><path d="M493.5 373.6L496.3 376.4L493.5 379.2L490.7 376.4Z" fill="#4472C4"/><rect x="490.7" y="387.4" width="5.6" height="5.6" fill="#ED7D31"/><path d="M493.5 401.3L496.4 406.38L490.6 406.38Z" fill="#A5A5A5"/><text x="497.3" y="379.3" class="ls" textLength="30" lengthAdjust="spacingAndGlyphs">41.4 kPa</text><text x="497.3" y="393.1" class="ls" textLength="30" lengthAdjust="spacingAndGlyphs">27.6 kPa</text><text x="497.3" y="407.1" class="ls" textLength="30" lengthAdjust="spacingAndGlyphs">13.8 kPa</text><text x="441.5" y="523.2" class="cb">(i)</text><text x="456.6" y="523.2" class="cp" textLength="20.4" lengthAdjust="spacingAndGlyphs">+2%</text><text x="477" y="523.2" class="cw" textLength="8" lengthAdjust="spacingAndGlyphs">ω</text><text x="485" y="523.5" class="co" textLength="11.7" lengthAdjust="spacingAndGlyphs">opt</text><text x="387.4" y="542.8" class="p" textLength="142.1" lengthAdjust="spacingAndGlyphs">(Pavement C C-4: ML/A-4)</text></g>
</svg>
</body></html>
